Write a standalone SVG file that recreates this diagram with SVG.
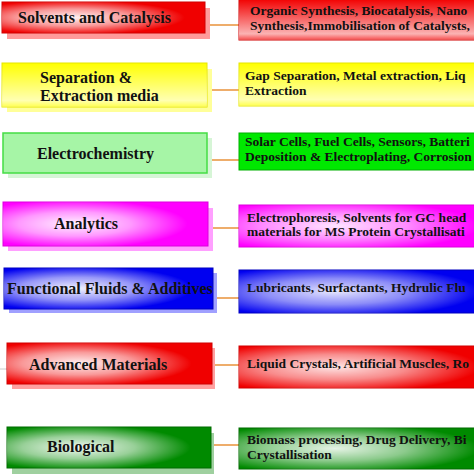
<svg xmlns="http://www.w3.org/2000/svg" width="474" height="474" viewBox="0 0 474 474">
<defs>
<radialGradient id="hl" cx="0.35" cy="0.5" r="0.55">
<stop offset="0" stop-color="#fff" stop-opacity="0.95"/>
<stop offset="0.5" stop-color="#fff" stop-opacity="0.6"/>
<stop offset="1" stop-color="#fff" stop-opacity="0"/>
</radialGradient>
<radialGradient id="hlR" cx="0.4" cy="0.5" r="0.6">
<stop offset="0" stop-color="#fff" stop-opacity="0.9"/>
<stop offset="0.5" stop-color="#fff" stop-opacity="0.55"/>
<stop offset="1" stop-color="#fff" stop-opacity="0"/>
</radialGradient>
<linearGradient id="hlV" x1="0" y1="0" x2="0" y2="1">
<stop offset="0" stop-color="#fff" stop-opacity="0"/>
<stop offset="0.85" stop-color="#fff" stop-opacity="0.7"/>
<stop offset="1" stop-color="#fff" stop-opacity="0.3"/>
</linearGradient>
</defs>
<style>
text{font-family:"Liberation Serif","Times New Roman",serif;font-weight:bold;fill:#111}
.lt{font-size:16px}
.rt{font-size:13.5px}
.c{stroke:#e8923a;stroke-width:1.5;fill:none}
.hl{fill:url(#hl)}
.hlR{fill:url(#hlR)}
.hlV{fill:url(#hlV)}
</style>
<rect width="474" height="474" fill="#fff"/>
<g id="connectors">
<line class="c" x1="210" y1="25" x2="240" y2="25"/>
<line class="c" x1="212" y1="90" x2="240" y2="90"/>
<line class="c" x1="210" y1="160" x2="240" y2="160"/>
<line class="c" x1="210" y1="228" x2="240" y2="228"/>
<line class="c" x1="217" y1="298" x2="247" y2="298"/>
<line class="c" x1="213" y1="365" x2="240" y2="365"/>
<line class="c" x1="213" y1="445" x2="240" y2="445"/>
<line x1="0" y1="369" x2="8" y2="369" stroke="#ccc" stroke-width="1"/>
</g>
<g id="solvents">
<rect x="7" y="8" width="203" height="31" fill="#ff9a9a"/>
<rect x="2" y="2" width="203" height="31" fill="#f00000" stroke="#d00000"/>
<rect x="2" y="2" width="203" height="31" class="hl"/>
<text class="lt" x="18" y="23">Solvents and Catalysis</text>
</g>
<g id="solvents-apps">
<rect x="239" y="-1" width="240" height="41" fill="#f20000" stroke="#d00000"/>
<rect x="239" y="-1" width="240" height="41" class="hlV"/>
<text class="rt" x="250" y="15">Organic Synthesis, Biocatalysis, Nano</text>
<text class="rt" x="250" y="30">Synthesis,Immobilisation of Catalysts,</text>
</g>
<g id="separation">
<rect x="7" y="69" width="205" height="43" fill="#ffff99"/>
<rect x="2" y="63" width="205" height="44" fill="#ffff00" stroke="#e6e600"/>
<rect x="2" y="63" width="205" height="44" class="hlV"/>
<text class="lt" x="40" y="83">Separation &amp;</text>
<text class="lt" x="40" y="101">Extraction media</text>
</g>
<g id="separation-apps">
<rect x="239" y="63" width="240" height="43" fill="#ffff00" stroke="#e6e600"/>
<rect x="239" y="63" width="240" height="43" class="hlV"/>
<text class="rt" x="245" y="80">Gap Separation, Metal extraction, Liq</text>
<text class="rt" x="245" y="95">Extraction</text>
</g>
<g id="electrochemistry">
<rect x="8" y="138" width="204" height="40" fill="#d6f5d6"/>
<rect x="3" y="133" width="204" height="40" fill="#a6f5a6" stroke="#44dd44" stroke-width="1.5"/>
<text class="lt" x="37" y="159">Electrochemistry</text>
</g>
<g id="electrochemistry-apps">
<rect x="239" y="133" width="240" height="37" fill="#00e800" stroke="#00b000"/>
<text class="rt" x="245" y="146">Solar Cells, Fuel Cells, Sensors, Batteri</text>
<text class="rt" x="245" y="161">Deposition &amp; Electroplating, Corrosion</text>
</g>
<g id="analytics">
<rect x="8" y="208" width="205" height="43" fill="#ffa0ff"/>
<rect x="3" y="202" width="205" height="44" fill="#ff00ff" stroke="#dd00dd"/>
<rect x="3" y="202" width="205" height="44" class="hl"/>
<text class="lt" x="54" y="229">Analytics</text>
</g>
<g id="analytics-apps">
<rect x="239" y="205" width="240" height="42" fill="#ff00ff" stroke="#dd00dd"/>
<rect x="239" y="205" width="240" height="42" class="hlR"/>
<text class="rt" x="247" y="222">Electrophoresis, Solvents for GC head</text>
<text class="rt" x="247" y="236">materials for MS Protein Crystallisati</text>
</g>
<g id="functional">
<rect x="9" y="273" width="208" height="40" fill="#a0a0ff"/>
<rect x="4" y="268" width="209" height="41" fill="#0000f0" stroke="#0000c0"/>
<rect x="4" y="268" width="209" height="41" class="hl"/>
<text class="lt" x="7" y="294">Functional Fluids &amp; Additives</text>
</g>
<g id="functional-apps">
<rect x="239" y="270" width="240" height="43" fill="#0000f0" stroke="#0000c0"/>
<rect x="239" y="270" width="240" height="43" class="hlR"/>
<text class="rt" x="247" y="292">Lubricants, Surfactants, Hydrulic Flu</text>
</g>
<g id="advanced">
<rect x="12" y="348" width="203" height="41" fill="#ffa0a0"/>
<rect x="7" y="343" width="205" height="41" fill="#f00000" stroke="#d00000"/>
<rect x="7" y="343" width="205" height="41" class="hl"/>
<text class="lt" x="29" y="370">Advanced Materials</text>
</g>
<g id="advanced-apps">
<rect x="239" y="346" width="240" height="42" fill="#f00000" stroke="#d00000"/>
<rect x="239" y="346" width="240" height="42" class="hlR"/>
<text class="rt" x="247" y="368">Liquid Crystals, Artificial Muscles, Ro</text>
</g>
<g id="biological">
<rect x="12" y="433" width="202" height="41" fill="#9fd09f"/>
<rect x="7" y="427" width="204" height="41" fill="#008a00" stroke="#006a00"/>
<rect x="7" y="427" width="204" height="41" class="hl"/>
<text class="lt" x="47" y="452">Biological</text>
</g>
<g id="biological-apps">
<rect x="239" y="428" width="240" height="41" fill="#008a00" stroke="#006a00"/>
<rect x="239" y="428" width="240" height="41" class="hlR"/>
<text class="rt" x="247" y="444">Biomass processing, Drug Delivery, Bi</text>
<text class="rt" x="247" y="459">Crystallisation</text>
</g>
</svg>
